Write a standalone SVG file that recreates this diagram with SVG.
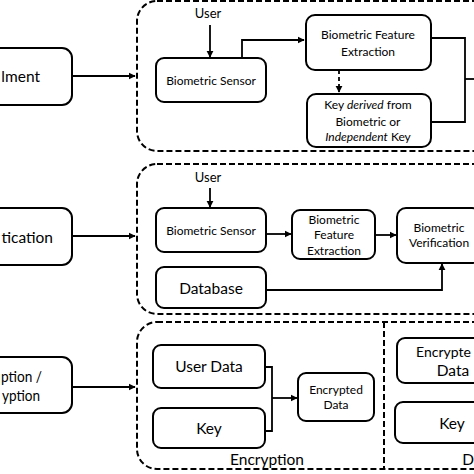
<svg xmlns="http://www.w3.org/2000/svg" width="474" height="474" viewBox="0 0 474 474">
<style>
.box{fill:#fff;stroke:#000;stroke-width:2}
.cont{fill:none;stroke:#000;stroke-width:2;stroke-dasharray:6 3}
.ln{fill:none;stroke:#000;stroke-width:1.8}
.dl{fill:none;stroke:#000;stroke-width:1.8;stroke-dasharray:4 3}
text{font-family:Lato,"Open Sans",sans-serif;fill:#000;text-anchor:middle}
.s{font-size:12px}
.m{font-size:13px}
.l{font-size:15.5px}
.e{text-anchor:end}
.st{text-anchor:start}
</style>
<defs>
<marker id="ah" viewBox="0 0 10 10" refX="9" refY="5" markerWidth="4" markerHeight="4" orient="auto">
<path d="M0,0L10,5L0,10z" fill="#000"/>
</marker>
</defs>
<g id="containers">
<rect class="cont" x="137" y="1" width="380" height="150" rx="20"/>
<rect class="cont" x="137" y="164" width="380" height="150" rx="20"/>
<rect class="cont" x="137" y="322" width="380" height="147" rx="20"/>
<line class="cont" x1="384" y1="322" x2="384" y2="469"/>
</g>
<g id="connectors">
<line class="ln" x1="72" y1="76" x2="135" y2="76" marker-end="url(#ah)"/>
<line class="ln" x1="72" y1="236" x2="135" y2="236" marker-end="url(#ah)"/>
<line class="ln" x1="72" y1="387" x2="135" y2="387" marker-end="url(#ah)"/>
<line class="ln" x1="210" y1="25" x2="210" y2="57" marker-end="url(#ah)"/>
<polyline class="ln" points="242,58 242,40 304,40" marker-end="url(#ah)"/>
<line class="dl" x1="339" y1="70" x2="339" y2="92" marker-end="url(#ah)"/>
<polyline class="ln" points="431,38 465,38 465,122 431,122"/>
<line class="ln" x1="465" y1="79" x2="476" y2="79"/>
<line class="ln" x1="210" y1="188" x2="210" y2="207" marker-end="url(#ah)"/>
<line class="ln" x1="266" y1="234" x2="291" y2="234" marker-end="url(#ah)"/>
<line class="ln" x1="375" y1="235" x2="396" y2="235" marker-end="url(#ah)"/>
<polyline class="ln" points="266,290 442,290 442,264" marker-end="url(#ah)"/>
<polyline class="ln" points="265,367 272,367 272,431 265,431"/>
<line class="ln" x1="272" y1="398" x2="297" y2="398" marker-end="url(#ah)"/>
</g>
<g id="enrollment">
<rect class="box" x="-72" y="48" width="144" height="57" rx="10"/>
<text class="l e" x="40" y="82">lment</text>
</g>
<g id="authentication">
<rect class="box" x="-72" y="208" width="144" height="57" rx="10"/>
<text class="l e" x="53" y="243">tication</text>
</g>
<g id="encdec">
<rect class="box" x="-72" y="357" width="144" height="56" rx="10"/>
<text class="l st" x="1" y="382" textLength="41" lengthAdjust="spacingAndGlyphs">ption /</text>
<text class="l st" x="2" y="401" textLength="38" lengthAdjust="spacingAndGlyphs">yption</text>
</g>
<g id="user1"><text class="m" x="208" y="18">User</text></g>
<g id="sensor1">
<rect class="box" x="156" y="58" width="110" height="44" rx="8"/>
<text class="s" x="211" y="85">Biometric Sensor</text>
</g>
<g id="fe1">
<rect class="box" x="306" y="15" width="125" height="55" rx="9"/>
<text class="s" x="368" y="39">Biometric Feature</text>
<text class="s" x="368" y="56">Extraction</text>
</g>
<g id="key1">
<rect class="box" x="307" y="94" width="124" height="53" rx="9"/>
<text class="s" x="368" y="109">Key <tspan font-style="italic">derived</tspan> from</text>
<text class="s" x="368" y="126">Biometric or</text>
<text class="s" x="368" y="141"><tspan font-style="italic">Independent</tspan> Key</text>
</g>
<g id="user2"><text class="m" x="208" y="182">User</text></g>
<g id="sensor2">
<rect class="box" x="156" y="208" width="110" height="44" rx="8"/>
<text class="s" x="211" y="235">Biometric Sensor</text>
</g>
<g id="fe2">
<rect class="box" x="292" y="210" width="83" height="49" rx="8"/>
<text class="s" x="334" y="224">Biometric</text>
<text class="s" x="334" y="239">Feature</text>
<text class="s" x="334" y="255">Extraction</text>
</g>
<g id="verification">
<rect class="box" x="397" y="208" width="84" height="55" rx="9"/>
<text class="s" x="439" y="232">Biometric</text>
<text class="s" x="439" y="247">Verification</text>
</g>
<g id="database">
<rect class="box" x="156" y="267" width="110" height="41" rx="8"/>
<text class="l" x="211" y="294">Database</text>
</g>
<g id="userdata">
<rect class="box" x="153" y="345" width="112" height="43" rx="8"/>
<text class="l" x="209" y="372">User Data</text>
</g>
<g id="key2">
<rect class="box" x="153" y="408" width="112" height="40" rx="8"/>
<text class="l" x="209" y="434">Key</text>
</g>
<g id="encdata1">
<rect class="box" x="298" y="373" width="76" height="48" rx="8"/>
<text class="s" x="336" y="394">Encrypted</text>
<text class="s" x="336" y="409">Data</text>
</g>
<g id="enclabel"><text class="l" x="267" y="465">Encryption</text></g>
<g id="encdata2">
<rect class="box" x="397" y="338" width="112" height="45" rx="8"/>
<text class="st" x="416" y="357" style="font-size:14px">Encrypte</text>
<text class="l" x="453" y="376">Data</text>
</g>
<g id="key3">
<rect class="box" x="395" y="402" width="114" height="41" rx="8"/>
<text class="l" x="452" y="429">Key</text>
</g>
<g id="declabel"><text class="l e" x="474" y="465">D</text></g>
</svg>
